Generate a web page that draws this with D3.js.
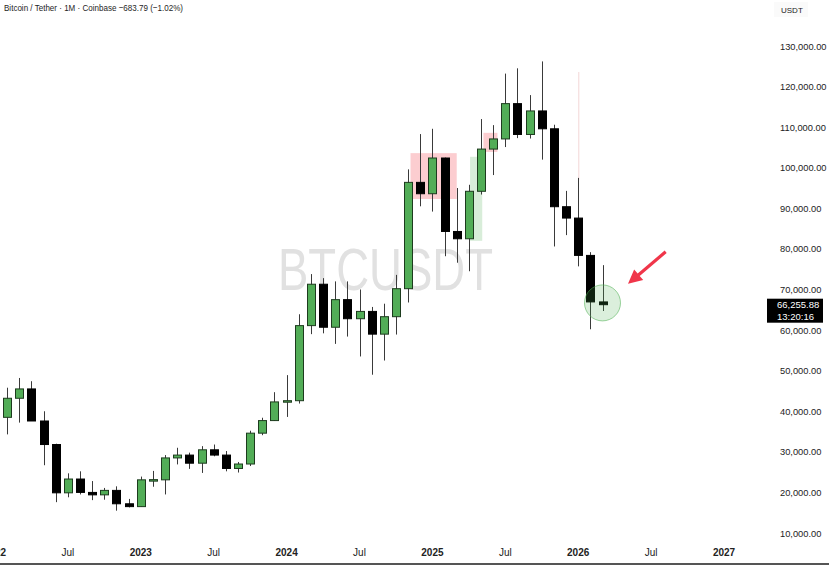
<!DOCTYPE html>
<html><head><meta charset="utf-8">
<script src="https://cdn.jsdelivr.net/npm/d3@7"></script>
<style>body{margin:0;background:#fff}svg{display:block}text{font-family:"Liberation Sans",Arial,sans-serif}</style>
</head><body>
<svg id="c" width="829" height="565"></svg>
<script>
// months since Jan 2022
const months = d3.range(0, 51);
const opens  = [46200,38500,43200,45500,37600,31800,19900,23300,20000,19400,20500,17200,
                16500,23100,23100,28500,29200,27200,30500,29200,25900,27000,34600,37700,
                42300,42600,61100,71300,60700,67500,62800,64600,59000,63300,70200,96400,
                93600,102400,84300,82500,94200,104600,107100,115800,108200,114000,109600,90400,
                87600,78400,66940];
const highs  = [47900,45800,48200,47400,40000,32000,24700,25200,22800,21100,21500,18400,
                23900,25300,29200,31000,29800,31400,31800,30200,27500,35200,38400,44700,
                48900,63900,73800,72800,72000,72000,70000,65700,66500,73600,99600,108300,
                109600,102500,95000,95800,112000,110500,123200,124500,117900,126200,110600,94300,
                97500,79200,76000];
const lows   = [32900,34300,37200,37600,26700,17600,18800,19500,18100,18200,15500,16300,
                16500,21400,19500,26900,25800,24800,28900,25200,24900,26500,34100,37600,
                38600,41900,59000,59200,56600,58400,53500,49000,52500,58900,66800,90500,
                89200,78200,76600,74500,93400,98200,105100,107300,107200,102000,80600,83400,
                75700,60200,64700];
const closes = [38500,43200,45500,37600,31800,19900,23300,20000,19400,20500,17200,16500,
                23100,23150,28500,29200,27200,30500,29200,25900,27000,34600,37700,42300,
                42600,61100,71300,60700,67500,62800,64600,59000,63300,70200,96400,93600,
                102400,84300,82500,94200,104600,107100,115800,108200,114000,109600,90400,87600,
                78400,66940,66255.88];
const priceTicks = d3.range(10000, 130001, 10000);
const timeTicks = [0,6,12,18,24,30,36,42,48,54,60];
const timeLabels = ["2022","Jul","2023","Jul","2024","Jul","2025","Jul","2026","Jul","2027"];
// zones: [monthStart, monthEnd, priceLow, priceHigh, kind]
const zoneStart = [34.2, 39.1, 40.2];
const zoneEnd   = [38.0, 40.1, 41.35];
const zoneLow   = [92300, 82000, 103900];
const zoneHigh  = [103600, 102700, 108600];
const zoneKind  = ["bear","bull","bear"];
const lastPrice = 66255.88, countdown = "13:20:16";
const headerText = "Bitcoin / Tether \u00b7 1M \u00b7 Coinbase  \u2212683.79 (\u22121.02%)";
const circleAt = [50, 66700];
const arrowFrom = [55.2, 79300], arrowTo = [52.1, 71400];
const faintLine = [48.05, 97000, 123600];

const svg = d3.select("#c");
const W = 829, H = 565, plotR = 770;
const x = d3.scaleLinear().domain([0, 60]).range([-5, 724]);
const y = d3.scaleLinear().domain([10000, 130000]).range([533, 46]);

svg.append("defs").append("clipPath").attr("id","pc").append("rect")
  .attr("x",0).attr("y",0).attr("width",plotR).attr("height",546);

// watermark
svg.append("text").attr("x",385.5).attr("y",290).attr("text-anchor","middle")
  .attr("font-size",60).attr("fill","#e1e1e1").attr("textLength",215)
  .attr("lengthAdjust","spacingAndGlyphs").text("BTCUSDT");

const g = svg.append("g").attr("clip-path","url(#pc)");

// zones
g.selectAll("rect.zone").data(zoneStart).join("rect").attr("class","zone")
  .attr("x",(d,i)=>x(d)).attr("width",(d,i)=>x(zoneEnd[i])-x(d))
  .attr("y",(d,i)=>y(zoneHigh[i])).attr("height",(d,i)=>y(zoneLow[i])-y(zoneHigh[i]))
  .attr("fill",(d,i)=>zoneKind[i]==="bear"?"rgba(242,54,69,0.25)":"rgba(76,175,80,0.22)");

// faint line
g.append("line").attr("x1",x(faintLine[0])).attr("x2",x(faintLine[0]))
  .attr("y1",y(faintLine[2])).attr("y2",y(faintLine[1]))
  .attr("stroke","#f3d6d6").attr("stroke-width",1);

const bw = 8;
const cg = g.selectAll("g.c").data(months).join("g").attr("class","c");
cg.append("line")
  .attr("x1",i=>Math.round(x(i))+0.5).attr("x2",i=>Math.round(x(i))+0.5)
  .attr("y1",i=>y(highs[i])).attr("y2",i=>y(lows[i]))
  .attr("stroke","#3a3a3a").attr("stroke-width",1);
cg.append("rect")
  .attr("x",i=>Math.round(x(i))-bw/2+0.5).attr("width",bw)
  .attr("y",i=>y(Math.max(opens[i],closes[i])))
  .attr("height",i=>Math.max(1.5, Math.abs(y(opens[i])-y(closes[i]))))
  .attr("fill",i=>closes[i]>=opens[i]?"#52ad57":"#000")
  .attr("stroke",i=>closes[i]>=opens[i]?"#1d3b1e":"#000").attr("stroke-width",1);

// circle
svg.append("circle").attr("cx",x(circleAt[0])).attr("cy",y(circleAt[1])).attr("r",18)
  .attr("fill","rgba(76,175,80,0.2)").attr("stroke","rgba(76,175,80,0.55)").attr("stroke-width",1);

// arrow
(function(){
  const x1=x(arrowFrom[0]), y1=y(arrowFrom[1]), x2=x(arrowTo[0]), y2=y(arrowTo[1]);
  const dx=x2-x1, dy=y2-y1, L=Math.hypot(dx,dy), ux=dx/L, uy=dy/L, px=-uy, py=ux;
  const hl=14, hw=7, sw=1.6;
  const bx=x2-ux*hl, by=y2-uy*hl;
  const pts=[[x1+px*sw,y1+py*sw],[bx+px*sw,by+py*sw],[bx+px*hw,by+py*hw],[x2,y2],
             [bx-px*hw,by-py*hw],[bx-px*sw,by-py*sw],[x1-px*sw,y1-py*sw]];
  svg.append("path").attr("d","M"+pts.map(p=>p.join(",")).join("L")+"Z").attr("fill","#f0364a");
})();

// header
svg.append("text").attr("x",4).attr("y",11).attr("font-size",9.5).attr("fill","#1e1e1e")
  .attr("textLength",179).attr("lengthAdjust","spacingAndGlyphs").text(headerText);

// right axis
const fmt = d3.format(",.2f");
svg.append("rect").attr("x",774).attr("y",2).attr("width",34).attr("height",15).attr("fill","#fafafa");
svg.append("text").attr("x",781).attr("y",12.5).attr("font-size",8).attr("fill","#222").text("USDT");
svg.selectAll("text.py").data(priceTicks).join("text").attr("class","py")
  .attr("x",780).attr("y",d=>y(d)+3.5).attr("font-size",9.3).attr("fill","#222")
  .text(d=>fmt(d));

// last price label
const ly = y(lastPrice);
svg.append("rect").attr("x",767).attr("y",ly-6).attr("width",56).attr("height",24).attr("fill","#000");
svg.append("text").attr("x",777).attr("y",ly+3.5).attr("font-size",9.5).attr("fill","#fff").text(fmt(lastPrice));
svg.append("text").attr("x",777).attr("y",ly+15).attr("font-size",9.5).attr("fill","#fff").text(countdown);

// bottom axis
svg.selectAll("text.tx").data(timeTicks).join("text").attr("class","tx")
  .attr("x",d=>x(d)).attr("y",556).attr("text-anchor","middle").attr("font-size",10)
  .attr("font-weight",(d,i)=>timeLabels[i]==="Jul"?"normal":"bold").attr("fill","#222")
  .text((d,i)=>timeLabels[i]);
svg.append("rect").attr("x",0).attr("y",563).attr("width",W).attr("height",2).attr("fill","#555");
</script>
</body></html>
